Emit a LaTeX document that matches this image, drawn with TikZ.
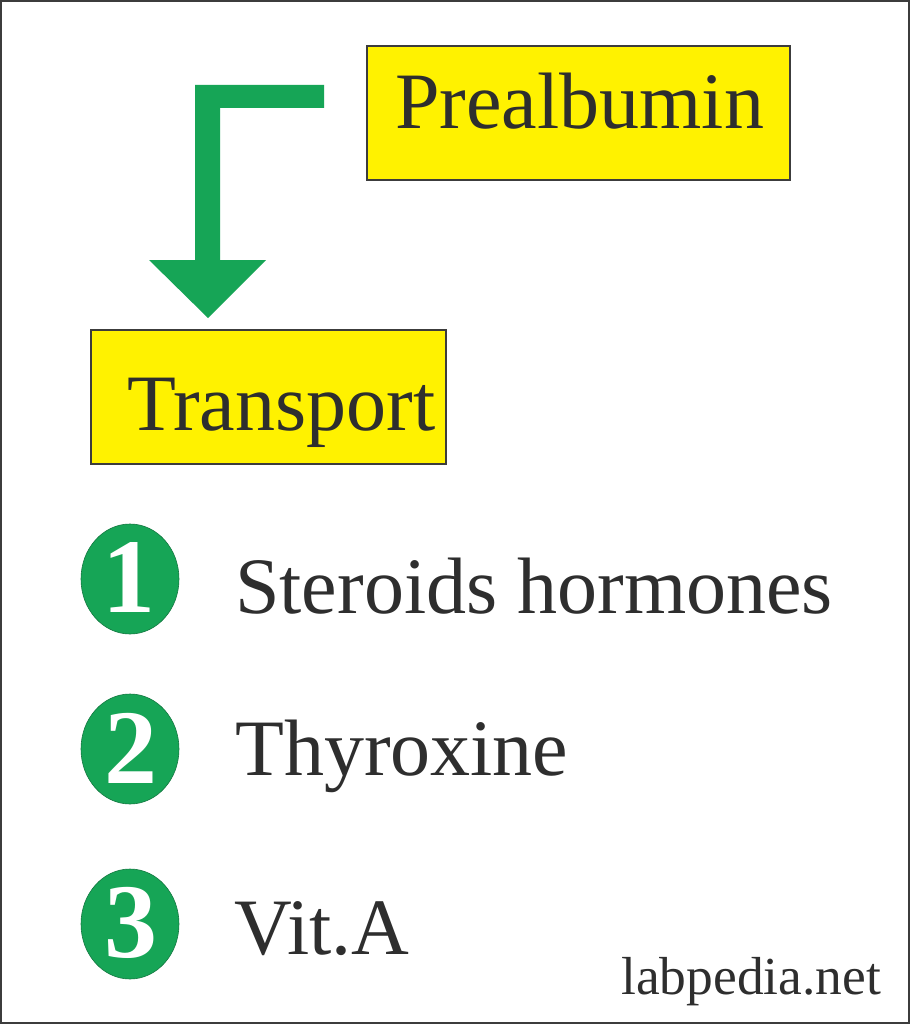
\documentclass[tikz,border=0pt]{standalone}
\usepackage{fontspec}
\setmainfont{Liberation Serif}
\usetikzlibrary{shapes.geometric}
\definecolor{lpgreen}{RGB}{22,165,86}
\definecolor{lpgreenline}{RGB}{20,120,65}
\definecolor{lpyellow}{RGB}{255,242,0}
\definecolor{lptext}{RGB}{46,46,46}
\definecolor{lpframe}{RGB}{60,60,60}
\tikzset{
  ybox/.style={draw=lpframe, line width=2pt, fill=lpyellow, inner sep=0pt},
  bigtext/.style={anchor=base west, inner sep=0pt, text=lptext, font=\fontsize{80}{90}\selectfont},
  numdisc/.style={ellipse, fill=lpgreen, draw=lpgreenline, line width=0.6pt, minimum width=98pt, minimum height=110pt, inner sep=0pt},
  numtext/.style={inner sep=0pt, text=white, font=\fontsize{106}{110}\bfseries\selectfont},
}
\begin{document}
\begin{tikzpicture}[x=1pt,y=-1pt]
\useasboundingbox (0,0) rectangle (910,1024);
\fill[white] (0,0) rectangle (910,1024);
\draw[lpframe, line width=2pt] (1,1) rectangle (909,1023);

% boxes
\node[ybox, minimum width=423pt, minimum height=134pt] (pre) at (578.5,113) {};
\node[bigtext] (pretext) at (395,129) {Prealbumin};
\node[ybox, minimum width=355pt, minimum height=134pt] (trans) at (268.5,397) {};
\node[bigtext] (transtext) at (127,430) {Transport};

% bent arrow
\coordinate (astart) at (324,85);
\fill[lpgreen] (astart) -- (195,85) -- (195,260) -- (149,260) -- (208,318)
  -- (266,260) -- (220,260) -- (220,108) -- (324,108) -- cycle;

% numbered items
\node[numdisc] (c1) at (130,579) {};
\node[numtext] (n1) at (129,578) {1};
\node[bigtext] (t1) at (235,613) {Steroids hormones};

\node[numdisc] (c2) at (130,749) {};
\node[numtext] (n2) at (131,748) {2};
\node[bigtext] (t2) at (235,775) {Thyroxine};

\node[numdisc] (c3) at (130,924) {};
\node[numtext] (n3) at (131,923) {3};
\node[bigtext] (t3) at (234,954) {Vit.A};

\node[anchor=base west, inner sep=0pt, text=lptext, font=\fontsize{53.5}{60}\selectfont] (site) at (621,994) {labpedia.net};
\end{tikzpicture}
\end{document}
